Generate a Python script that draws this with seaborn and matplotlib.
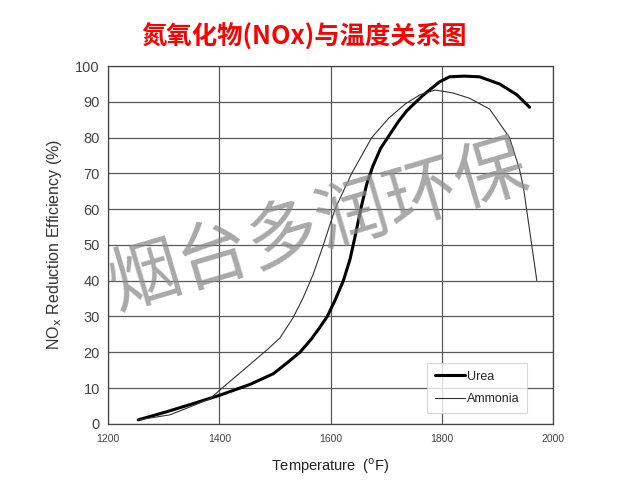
"""
NOx reduction efficiency vs temperature (Urea / Ammonia)
"""
import matplotlib
matplotlib.use("Agg")
import matplotlib.pyplot as plt
import seaborn as sns
import pandas as pd

# 数据
urea_temp = [1254, 1306, 1350, 1401, 1455, 1497, 1520, 1545, 1566, 1580, 1594, 1608,
             1623, 1635, 1645, 1655, 1665, 1676, 1690, 1707, 1722, 1737, 1766,
             1796, 1814, 1840, 1868, 1904, 1935, 1958]
urea_eff = [1.1, 3.4, 5.5, 8, 11, 14, 16.8, 20, 23.8, 26.8, 30, 34.5,
            40, 46, 53, 60.5, 67, 72, 77, 81, 84.5, 87.5, 91.8,
            95.6, 97, 97.2, 97, 95, 92, 88.5]

ammonia_temp = [1254, 1311, 1347, 1383, 1405, 1443, 1486, 1509, 1532, 1550, 1568,
                1586, 1608, 1638, 1674, 1705, 1735, 1761, 1788, 1820, 1850, 1886,
                1922, 1940, 1947, 1971]
ammonia_eff = [1.1, 2.5, 4.7, 7, 10, 15, 20.7, 24, 29.5, 35, 41.5,
               49.5, 60, 70, 80, 85.5, 89.5, 92, 93.3, 92.5, 91, 88,
               80, 71, 66, 40]

x_ticks = [1200, 1400, 1600, 1800, 2000]
y_ticks = list(range(0, 101, 10))

title = "氮氧化物(NOx)与温度关系图"
watermark = "烟台多润环保"

df = pd.concat([
    pd.DataFrame({"temp": urea_temp, "eff": urea_eff, "series": "Urea"}),
    pd.DataFrame({"temp": ammonia_temp, "eff": ammonia_eff, "series": "Ammonia"}),
])

sns.set_style("white")
plt.rcParams["font.family"] = ["Liberation Sans", "Noto Sans CJK SC", "DejaVu Sans"]

fig = plt.figure(figsize=(6.4, 4.86), dpi=100)
ax = fig.add_axes([0.169, 0.128, 0.695, 0.736])

sns.lineplot(data=df, x="temp", y="eff", hue="series", size="series",
             sizes={"Urea": 2.2, "Ammonia": 0.8},
             palette={"Urea": "black", "Ammonia": "#333333"},
             sort=False, estimator=None, ax=ax, zorder=3)

ax.set_xlim(1200, 2000)
ax.set_ylim(0, 100)
ax.set_xticks(x_ticks)
ax.set_yticks(y_ticks)
ax.tick_params(axis="x", labelsize=7.5, direction="out", length=4, width=0.8,
               color="#444444", labelcolor="#444444")
ax.tick_params(axis="y", labelsize=10.5, direction="out", length=4, width=0.8, pad=2,
               color="#444444", labelcolor="#444444")
ax.grid(True, color="#5a5a5a", linewidth=0.9)
for sp in ax.spines.values():
    sp.set_color("#444444")
    sp.set_linewidth(0.9)

ax.set_xlabel(r"Temperature  ($^{\mathrm{o}}$F)", fontsize=10.5, color="#222222", labelpad=9)
ax.set_ylabel(r"NO$_{\mathrm{x}}$ Reduction Efficiency (%)", fontsize=11.5, color="#333333", labelpad=8)

leg = ax.legend(loc="lower left", bbox_to_anchor=(0.717, 0.031), borderaxespad=0,
                prop={"size": 9},
                frameon=True, fancybox=False, edgecolor="#d0d0d0",
                handlelength=2.4, handletextpad=0.2, borderpad=0.6, labelspacing=0.85)
leg.get_frame().set_linewidth(0.8)

# 标题
fig.text(0.475, 0.924, title, ha="center", va="center", color="red",
         fontsize=18.3, fontweight="bold", family=["Noto Sans CJK SC", "DejaVu Sans"])

# 水印
fig.text(0.498, 0.530, watermark, ha="center", va="center", color="#8c8c8c",
         alpha=0.75, fontsize=52, rotation=16.5, zorder=10, fontweight="light",
         family=["Noto Sans CJK SC", "DejaVu Sans"])

plt.savefig("out.png", dpi=100)
plt.close()
